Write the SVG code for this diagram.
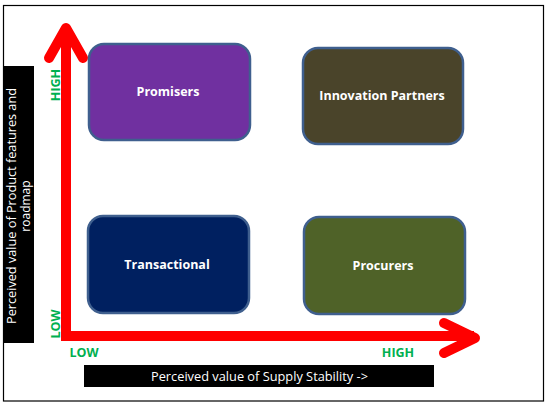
<svg xmlns="http://www.w3.org/2000/svg" width="549" height="407" viewBox="0 0 549 407">
<style>
.node rect{stroke:#3F5F8E;stroke-width:2.5}
.node text{font-family:"Open Sans","Liberation Sans",sans-serif;font-weight:bold;font-size:12.5px;fill:#fff;text-anchor:middle}
.axis{fill:none;stroke:#FF0000;stroke-width:10}
.lbl{font-family:"Open Sans","Liberation Sans",sans-serif;font-size:12px;fill:#fff}
.tick{font-family:"Open Sans","Liberation Sans",sans-serif;font-weight:bold;font-size:12.5px;fill:#00B050}
</style>
<rect x="0" y="0" width="549" height="407" fill="#fff"/>
<rect x="3.5" y="5.5" width="540" height="395.5" fill="none" stroke="#000" stroke-width="1.2"/>
<g id="connectors">
<path class="axis" d="M66,30 V336 H474" stroke-linejoin="miter"/>
<polyline class="axis" points="49,58 66,28 83,58" stroke-linecap="round" stroke-linejoin="round"/>
<polyline class="axis" points="444,323 475,338 444,353" stroke-linecap="round" stroke-linejoin="round" stroke-width="11"/>
</g>
<g id="y-axis-label">
<rect x="3" y="66" width="31" height="277" fill="#000"/>
<text class="lbl" transform="translate(15.5,206) rotate(-90)" text-anchor="middle" textLength="236" lengthAdjust="spacingAndGlyphs">Perceived value of  Product features and</text>
<text class="lbl" transform="translate(30,206) rotate(-90)" text-anchor="middle">roadmap</text>
</g>
<g id="x-axis-label">
<rect x="84" y="365" width="350" height="22" fill="#000"/>
<text class="lbl" x="259.5" y="381" text-anchor="middle" font-size="13" textLength="217" lengthAdjust="spacingAndGlyphs">Perceived value of Supply Stability -&gt;</text>
</g>
<g id="ticks">
<text class="tick" transform="translate(60,85) rotate(-90)" text-anchor="middle">HIGH</text>
<text class="tick" transform="translate(60,324) rotate(-90)" text-anchor="middle">LOW</text>
<text class="tick" x="84" y="357" text-anchor="middle">LOW</text>
<text class="tick" x="398" y="357" text-anchor="middle">HIGH</text>
</g>
<g id="promisers" class="node">
<rect x="89" y="44" width="161" height="96" rx="15" fill="#7030A0"/>
<text x="168" y="96">Promisers</text>
</g>
<g id="innovation-partners" class="node">
<rect x="303" y="48" width="160" height="96" rx="15" fill="#4A442A"/>
<text x="382" y="100">Innovation Partners</text>
</g>
<g id="transactional" class="node">
<rect x="88" y="216" width="161" height="97" rx="15" fill="#002060"/>
<text x="167" y="269">Transactional</text>
</g>
<g id="procurers" class="node">
<rect x="304" y="217" width="161" height="97" rx="15" fill="#4F6228"/>
<text x="383" y="270">Procurers</text>
</g>
</svg>
